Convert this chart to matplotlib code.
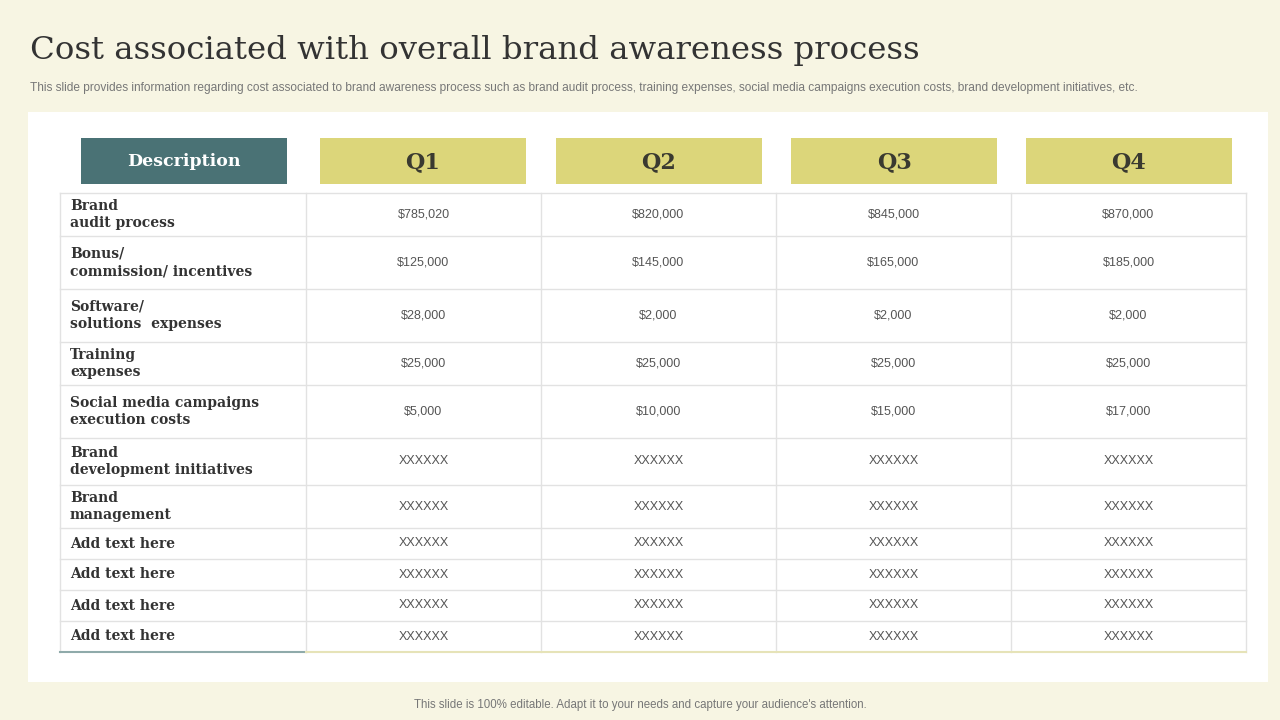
import matplotlib
matplotlib.use("Agg")
import matplotlib.pyplot as plt
from matplotlib.patches import Rectangle

title = "Cost associated with overall brand awareness process"
subtitle = ("This slide provides information regarding cost associated to brand awareness process such as brand audit process, "
            "training expenses, social media campaigns execution costs, brand development initiatives, etc.")
footer = "This slide is 100% editable. Adapt it to your needs and capture your audience's attention."
header_desc = "Description"
quarters = ["Q1", "Q2", "Q3", "Q4"]
row_labels = ["Brand\naudit process", "Bonus/\ncommission/ incentives", "Software/\nsolutions  expenses",
              "Training\nexpenses", "Social media campaigns\nexecution costs", "Brand\ndevelopment initiatives",
              "Brand\nmanagement", "Add text here", "Add text here", "Add text here", "Add text here"]
q1 = ["$785,020", "$125,000", "$28,000", "$25,000", "$5,000"] + ["XXXXXX"] * 6
q2 = ["$820,000", "$145,000", "$2,000", "$25,000", "$10,000"] + ["XXXXXX"] * 6
q3 = ["$845,000", "$165,000", "$2,000", "$25,000", "$15,000"] + ["XXXXXX"] * 6
q4 = ["$870,000", "$185,000", "$2,000", "$25,000", "$17,000"] + ["XXXXXX"] * 6

BG = "#F7F5E3"
TEAL = "#4A7275"
YEL = "#DCD67A"
GRID = "#E2E2E2"

fig = plt.figure(figsize=(12.8, 7.2), dpi=100, facecolor=BG)
ax = fig.add_axes([0, 0, 1, 1])
ax.set_xlim(0, 1280); ax.set_ylim(720, 0); ax.axis("off")

ax.text(30, 50, title, fontsize=23.3, family="DejaVu Serif", color="#333333", va="center")
ax.text(30, 88, subtitle, fontsize=8.6, family="Liberation Sans", color="#777777", va="center")
ax.text(640, 705, footer, fontsize=8.3, family="Liberation Sans", color="#777777", va="center", ha="center")

ax.add_patch(Rectangle((28, 112), 1240, 570, facecolor="white", edgecolor="none"))

# header
ax.add_patch(Rectangle((81, 138), 206, 46, facecolor=TEAL))
ax.text(184, 161, header_desc, fontsize=12.5, family="DejaVu Serif", weight="bold", color="white", ha="center", va="center")
qx = [320, 556, 791, 1026]
for x, q in zip(qx, quarters):
    ax.add_patch(Rectangle((x, 138), 206, 46, facecolor=YEL))
    ax.text(x + 103, 162, q, fontsize=16, family="DejaVu Serif", weight="bold", color="#3a3a30", ha="center", va="center")

ys = [193, 236, 289, 342, 385, 438, 485, 528, 559, 590, 621, 652]
xs = [60, 306, 541, 776, 1011, 1246]
for y in ys[:-1]:
    ax.plot([60, 1246], [y, y], color=GRID, lw=1)
for x in xs:
    ax.plot([x, x], [ys[0], ys[-1]], color=GRID, lw=1)
ax.plot([60, 306], [652, 652], color="#8FAAAA", lw=1.5)
ax.plot([306, 1246], [652, 652], color="#E6E3B8", lw=1.5)

cols = [q1, q2, q3, q4]
for i, lab in enumerate(row_labels):
    yc = (ys[i] + ys[i + 1]) / 2
    ax.text(70, yc, lab, fontsize=10, family="DejaVu Serif", weight="bold", color="#333333",
            va="center", ha="left", linespacing=1.3)
    for j, col in enumerate(cols):
        ax.text((xs[j + 1] + xs[j + 2]) / 2, yc, col[i], fontsize=9, family="Liberation Sans",
                color="#555555", ha="center", va="center")

fig.savefig("out.png", dpi=100, facecolor=BG)
